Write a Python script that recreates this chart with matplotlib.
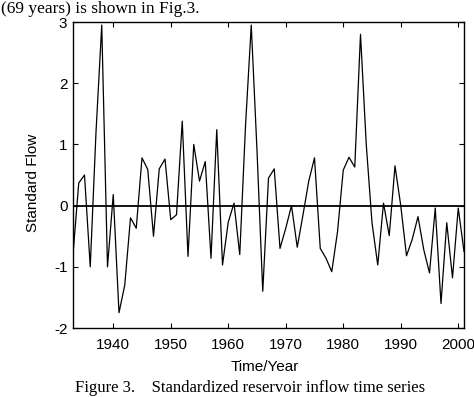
import matplotlib
matplotlib.use("Agg")
import matplotlib.pyplot as plt

years = list(range(1933, 2002))
flow = [
    -0.80, 0.37, 0.50, -1.00, 1.20, 2.95, -1.00, 0.18, -1.75, -1.30,   # 1933-1942
    -0.20, -0.37, 0.78, 0.59, -0.50, 0.60, 0.76, -0.23, -0.15, 1.38,   # 1943-1952
    -0.83, 1.00, 0.40, 0.72, -0.86, 1.24, -0.97, -0.27, 0.04, -0.80,   # 1953-1962
    1.30, 2.95, 0.90, -1.40, 0.45, 0.60, -0.70, -0.37, 0.00, -0.68,    # 1963-1972
    -0.15, 0.40, 0.78, -0.70, -0.86, -1.08, -0.43, 0.58, 0.79, 0.63,   # 1973-1982
    2.80, 1.00, -0.28, -0.97, 0.04, -0.49, 0.65, 0.00, -0.82, -0.55,   # 1983-1992
    -0.18, -0.72, -1.10, -0.04, -1.60, -0.28, -1.18, -0.04, -0.75,     # 1993-2001
]
xticks = [1940, 1950, 1960, 1970, 1980, 1990, 2000]
yticks = [-2, -1, 0, 1, 2, 3]

W, H = 474, 397
fig = plt.figure(figsize=(W / 100, H / 100), dpi=100)
left, right, top, bottom = 73, 464, 22, 328
ax = fig.add_axes([left / W, 1 - bottom / H, (right - left) / W, (bottom - top) / H])

ax.plot(years, flow, color="black", lw=0.9)
ax.axhline(0, color="black", lw=1.3)

ax.set_xlim(1933, 2001)
ax.set_ylim(-2, 3)
ax.set_xticks(xticks)
ax.set_yticks(yticks)
sans = "Liberation Sans"
ax.set_xticklabels([str(t) for t in xticks], fontname=sans, fontsize=11)
ax.set_yticklabels([str(t) for t in yticks], fontname=sans, fontsize=11)
ax.tick_params(direction="in", length=3.6, width=0.8, top=True, right=True, color="black")
ax.tick_params(axis="x", pad=7)
ax.tick_params(axis="y", pad=4)
for s in ax.spines.values():
    s.set_linewidth(1.0)
    s.set_color("black")

ax.set_xlabel("Time/Year", fontname=sans, fontsize=11)
ax.set_ylabel("Standard Flow", fontname=sans, fontsize=11)
ax.xaxis.set_label_coords((265 - left) / (right - left), (bottom - 367) / (bottom - top))
ax.yaxis.set_label_coords((33 - left) / (right - left), (bottom - 183) / (bottom - top))
ax.xaxis.label.set_va("center")
ax.yaxis.label.set_va("center")

serif = "Liberation Serif"
fig.text(1 / W, 1 - 13 / H, "(69 years) is shown in Fig.3.", fontname=serif,
         fontsize=12.5, ha="left", va="baseline")
fig.text(75 / W, 1 - 392 / H, "Figure 3.    Standardized reservoir inflow time series",
         fontname=serif, fontsize=12, ha="left", va="baseline")

fig.savefig("out.png", dpi=100)
